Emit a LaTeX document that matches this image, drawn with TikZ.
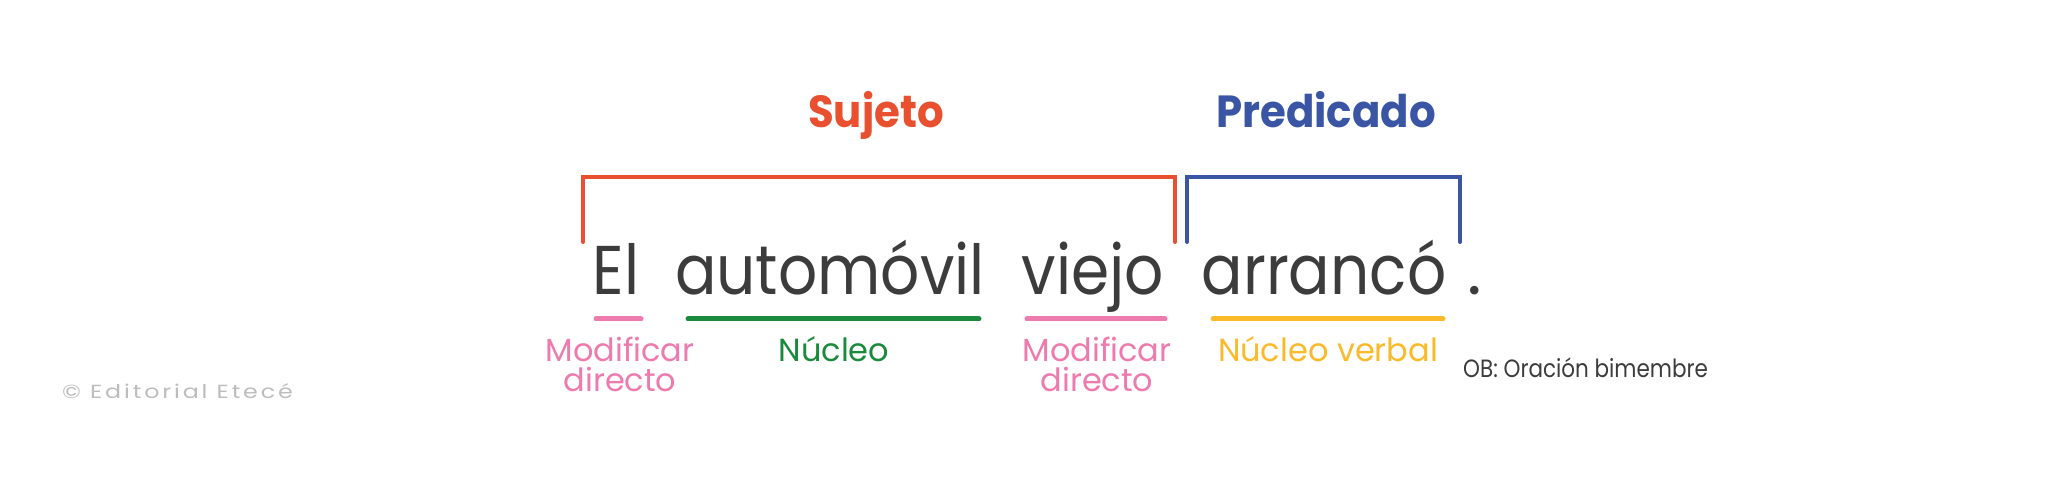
\documentclass[tikz,border=0pt]{standalone}
\usepackage{fontspec}
\setmainfont{Poppins}
\definecolor{sred}{HTML}{E8502F}
\definecolor{sblue}{HTML}{3A55A4}
\definecolor{spink}{HTML}{EE7BAE}
\definecolor{sgreen}{HTML}{1A8A3C}
\definecolor{syellow}{HTML}{FBBA2A}
\definecolor{sdark}{HTML}{3C3C3C}
\definecolor{sgrey}{HTML}{BDBDBD}
\newcommand{\sqzw}[1]{\scalebox{0.89}[1]{#1}}
\newcommand{\sqzh}[1]{\scalebox{0.93}[1]{#1}}
\tikzset{
  word/.style={inner sep=0pt, anchor=base, text=sdark, font=\fontsize{69}{69}\selectfont},
  head/.style={inner sep=0pt, anchor=base, font=\fontsize{45}{45}\selectfont\bfseries},
  lab/.style={inner sep=0pt, anchor=base, align=center, font=\fontsize{32}{30}\selectfont},
  bracket/.style={line width=4pt, line cap=round, line join=miter},
  uline/.style={line width=5pt, line cap=round},
}
\begin{document}
\begin{tikzpicture}[x=1pt,y=-1pt]
\useasboundingbox[fill=white] (0,0) rectangle (2048,478);
% headings
\node[head, text=sred] (suj) at (876,128) {\sqzh{Sujeto}};
\node[head, text=sblue] (pred) at (1326,128) {\sqzh{Predicado}};
% brackets
\draw[bracket, sred] (583,242) -- (583,177) -- (1175,177) -- (1175,242);
\draw[bracket, sblue] (1187,242) -- (1187,177) -- (1460,177) -- (1460,242);
% words
\node[word] (el) at (616,295) {\sqzw{El}};
\node[word] (auto) at (830,295) {\sqzw{automóvil}};
\node[word] (viejo) at (1093,295) {\sqzw{viejo}};
\node[word] (arr) at (1324,295) {\sqzw{arrancó}};
\node[word] (dot) at (1475,295) {.};
% underlines
\draw[uline, spink] (596,319) -- (641,319);
\draw[uline, sgreen] (688,319) -- (979,319);
\draw[uline, spink] (1027,319) -- (1165,319);
\draw[uline, syellow] (1213,319) -- (1443,319);
% labels
\node[lab, text=spink] (md1) at (620,391) {Modificar\\directo};
\node[lab, text=sgreen] (nuc) at (834,361) {Núcleo};
\node[lab, text=spink] (md2) at (1097,391) {Modificar\\directo};
\node[lab, text=syellow] (nv) at (1328,361) {Núcleo verbal};
\node[inner sep=0pt, anchor=base west, text=sdark, font=\fontsize{25}{25}\selectfont] (ob) at (1463,377) {\scalebox{0.86}[1]{OB: Oración bimembre}};
\node[inner sep=0pt, anchor=base west, text=sgrey, font=\fontsize{19}{19}\selectfont\addfontfeatures{LetterSpace=12}] (copy) at (62,398) {\scalebox{1.25}[1]{© Editorial Etecé}};
\end{tikzpicture}
\end{document}
